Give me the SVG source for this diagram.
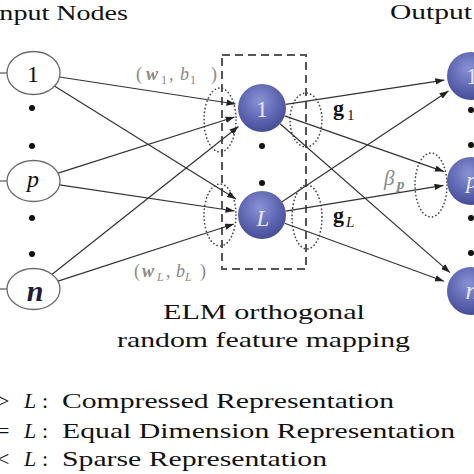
<svg xmlns="http://www.w3.org/2000/svg" width="474" height="474" viewBox="0 0 474 474" font-family="'Liberation Serif', 'DejaVu Serif', serif">
<style>
  text { font-family: 'Liberation Serif', 'DejaVu Serif', serif; fill: #111; }
  .in { fill: #ffffff; stroke: #6a6a6a; stroke-width: 1.3; }
  .blue { fill: url(#blueGrad); }
  .edge { stroke: #333; stroke-width: 1.2; fill: none; marker-end: url(#arrow); }
  .stub { stroke: #555; stroke-width: 1.2; }
  .dot { fill: #111; }
  .dotted { fill: none; stroke: #444; stroke-width: 1.7; stroke-dasharray: 0.1 3.6; stroke-linecap: round; }
  .dash { fill: none; stroke: #555; stroke-width: 2; stroke-dasharray: 8 5; }
  .wlabel { fill: #888; }
  .nlabel { fill: #e6e7f3; }
</style>
<defs>
  <radialGradient id="blueGrad" cx="0.45" cy="0.35" r="0.7">
    <stop offset="0" stop-color="#8a92d6"/>
    <stop offset="0.6" stop-color="#5c64b0"/>
    <stop offset="1" stop-color="#434992"/>
  </radialGradient>
  <marker id="arrow" viewBox="0 0 10 7" refX="10" refY="3.5" markerWidth="9" markerHeight="6.5" markerUnits="userSpaceOnUse" orient="auto">
    <path d="M0,0 L10,3.5 L0,7 z" fill="#222"/>
  </marker>
</defs>

<!-- titles -->
<text x="-10" y="20" font-size="21" textLength="138" lengthAdjust="spacingAndGlyphs">Input Nodes</text>
<text x="390" y="19" font-size="22" textLength="82" lengthAdjust="spacingAndGlyphs">Output</text>

<!-- dashed feature mapping box -->
<rect class="dash" x="222" y="55" width="84" height="214"/>

<!-- dotted ellipses -->
<g id="dotted-groups">
  <ellipse class="dotted" cx="220" cy="120" rx="16" ry="32"/>
  <ellipse class="dotted" cx="306" cy="120" rx="16" ry="27"/>
  <ellipse class="dotted" cx="220" cy="215" rx="16" ry="31"/>
  <ellipse class="dotted" cx="307" cy="217" rx="15" ry="32"/>
  <ellipse class="dotted" cx="431" cy="185" rx="16" ry="32"/>
</g>

<!-- connectors -->
<g id="connectors">
  <line class="stub" x1="0" y1="73" x2="7" y2="73"/>
  <line class="stub" x1="0" y1="181" x2="7" y2="181"/>
  <line class="stub" x1="0" y1="289" x2="7" y2="289"/>
  <line class="edge" x1="59.5" y1="77" x2="235.5" y2="104"/>
  <line class="edge" x1="54.4" y1="86" x2="236" y2="199"/>
  <line class="edge" x1="58.1" y1="173.1" x2="234.5" y2="117"/>
  <line class="edge" x1="59.5" y1="184.9" x2="234.5" y2="211"/>
  <line class="edge" x1="52.2" y1="274.2" x2="238.5" y2="126.5"/>
  <line class="edge" x1="58" y1="281.1" x2="234" y2="224"/>
  <line class="edge" x1="285.7" y1="104.4" x2="444.3" y2="80.1"/>
  <line class="edge" x1="284.7" y1="115.9" x2="444" y2="171.6"/>
  <line class="edge" x1="280.1" y1="123.8" x2="450" y2="272.6"/>
  <line class="edge" x1="282" y1="201.7" x2="448.5" y2="91"/>
  <line class="edge" x1="285.7" y1="211.1" x2="443.5" y2="185.4"/>
  <line class="edge" x1="284.6" y1="223.2" x2="444" y2="281.3"/>
</g>

<!-- input nodes -->
<g id="input-1">
  <ellipse class="in" cx="33.5" cy="73" rx="26.5" ry="21.5"/>
  <text x="33" y="82" font-size="24" text-anchor="middle">1</text>
</g>
<g id="input-p">
  <ellipse class="in" cx="33.5" cy="181" rx="26.5" ry="20.5"/>
  <text x="33" y="187" font-size="24" font-style="italic" text-anchor="middle">p</text>
</g>
<g id="input-n">
  <ellipse class="in" cx="33.5" cy="289" rx="26.5" ry="20.5"/>
  <text x="35" y="301" font-size="30" font-style="italic" font-weight="bold" text-anchor="middle" style="fill:#1c1c3c">n</text>
</g>
<g id="input-dots">
  <circle class="dot" cx="32" cy="108" r="3"/>
  <circle class="dot" cx="32" cy="146" r="3"/>
  <circle class="dot" cx="32" cy="218" r="3"/>
  <circle class="dot" cx="32" cy="254" r="3"/>
</g>

<!-- hidden nodes -->
<g id="hidden-1">
  <circle class="blue" cx="262" cy="108" r="24"/>
  <text class="nlabel" x="262" y="117" font-size="23" text-anchor="middle">1</text>
</g>
<g id="hidden-L">
  <circle class="blue" cx="262" cy="215" r="24"/>
  <text class="nlabel" x="263" y="226" font-size="23" font-style="italic" text-anchor="middle">L</text>
</g>
<g id="hidden-dots">
  <circle class="dot" cx="262" cy="146" r="3"/>
  <circle class="dot" cx="262" cy="183" r="3"/>
</g>

<!-- output nodes -->
<g id="output-1">
  <circle class="blue" cx="471" cy="76" r="24"/>
  <text class="nlabel" x="472" y="84" font-size="23" text-anchor="middle">1</text>
</g>
<g id="output-p">
  <circle class="blue" cx="471" cy="181" r="24"/>
  <text class="nlabel" x="472" y="188" font-size="23" font-style="italic" text-anchor="middle">p</text>
</g>
<g id="output-n">
  <circle class="blue" cx="471" cy="291" r="24"/>
  <text class="nlabel" x="472" y="299" font-size="26" font-style="italic" text-anchor="middle">n</text>
</g>
<g id="output-dots">
  <circle class="dot" cx="471" cy="110" r="3"/>
  <circle class="dot" cx="471" cy="145" r="3"/>
  <circle class="dot" cx="471" cy="218" r="3"/>
  <circle class="dot" cx="471" cy="253" r="3"/>
</g>

<!-- edge labels -->
<g id="labels">
  <text class="wlabel" y="80" font-size="18"><tspan x="136">(</tspan><tspan x="146" font-weight="bold" font-style="italic">w</tspan><tspan x="161" y="84" font-size="12">1</tspan><tspan x="169" y="80">,</tspan><tspan x="180" font-style="italic">b</tspan><tspan x="190" y="84" font-size="12">1</tspan><tspan x="211" y="80">)</tspan></text>
  <text class="wlabel" y="277" font-size="18"><tspan x="134">(</tspan><tspan x="142" font-weight="bold" font-style="italic">w</tspan><tspan x="157" y="281" font-size="12" font-style="italic">L</tspan><tspan x="166" y="277">,</tspan><tspan x="176" font-style="italic">b</tspan><tspan x="185" y="281" font-size="12" font-style="italic">L</tspan><tspan x="200" y="277">)</tspan></text>
  <text y="115" font-size="22" font-weight="bold"><tspan x="333">g</tspan><tspan x="347" y="120" font-size="15" font-weight="normal">1</tspan></text>
  <text y="222" font-size="22" font-weight="bold"><tspan x="333">g</tspan><tspan x="346" y="227" font-size="15" font-weight="normal" font-style="italic">L</tspan></text>
  <text class="wlabel" y="185" font-size="21" font-style="italic"><tspan x="384">β</tspan><tspan x="397" y="189" font-size="15" font-weight="bold">p</tspan></text>
</g>

<!-- caption -->
<text x="163" y="319" font-size="22" textLength="202" lengthAdjust="spacingAndGlyphs">ELM orthogonal</text>
<text x="117" y="347" font-size="22" textLength="293" lengthAdjust="spacingAndGlyphs">random feature mapping</text>

<!-- legend -->
<g id="legend" font-size="22">
  <text x="-3" y="408" font-size="22">&gt;</text>
  <text x="24" y="408" font-size="22" font-style="italic">L</text>
  <text x="42" y="408" font-size="22">:</text>
  <text x="62" y="408" font-size="22" textLength="332" lengthAdjust="spacingAndGlyphs">Compressed Representation</text>
  <text x="-3" y="438" font-size="22">=</text>
  <text x="24" y="438" font-size="22" font-style="italic">L</text>
  <text x="42" y="438" font-size="22">:</text>
  <text x="62" y="438" font-size="22" textLength="393" lengthAdjust="spacingAndGlyphs">Equal Dimension Representation</text>
  <text x="-3" y="466" font-size="22">&lt;</text>
  <text x="24" y="466" font-size="22" font-style="italic">L</text>
  <text x="42" y="466" font-size="22">:</text>
  <text x="62" y="466" font-size="22" textLength="265" lengthAdjust="spacingAndGlyphs">Sparse Representation</text>
</g>
</svg>
